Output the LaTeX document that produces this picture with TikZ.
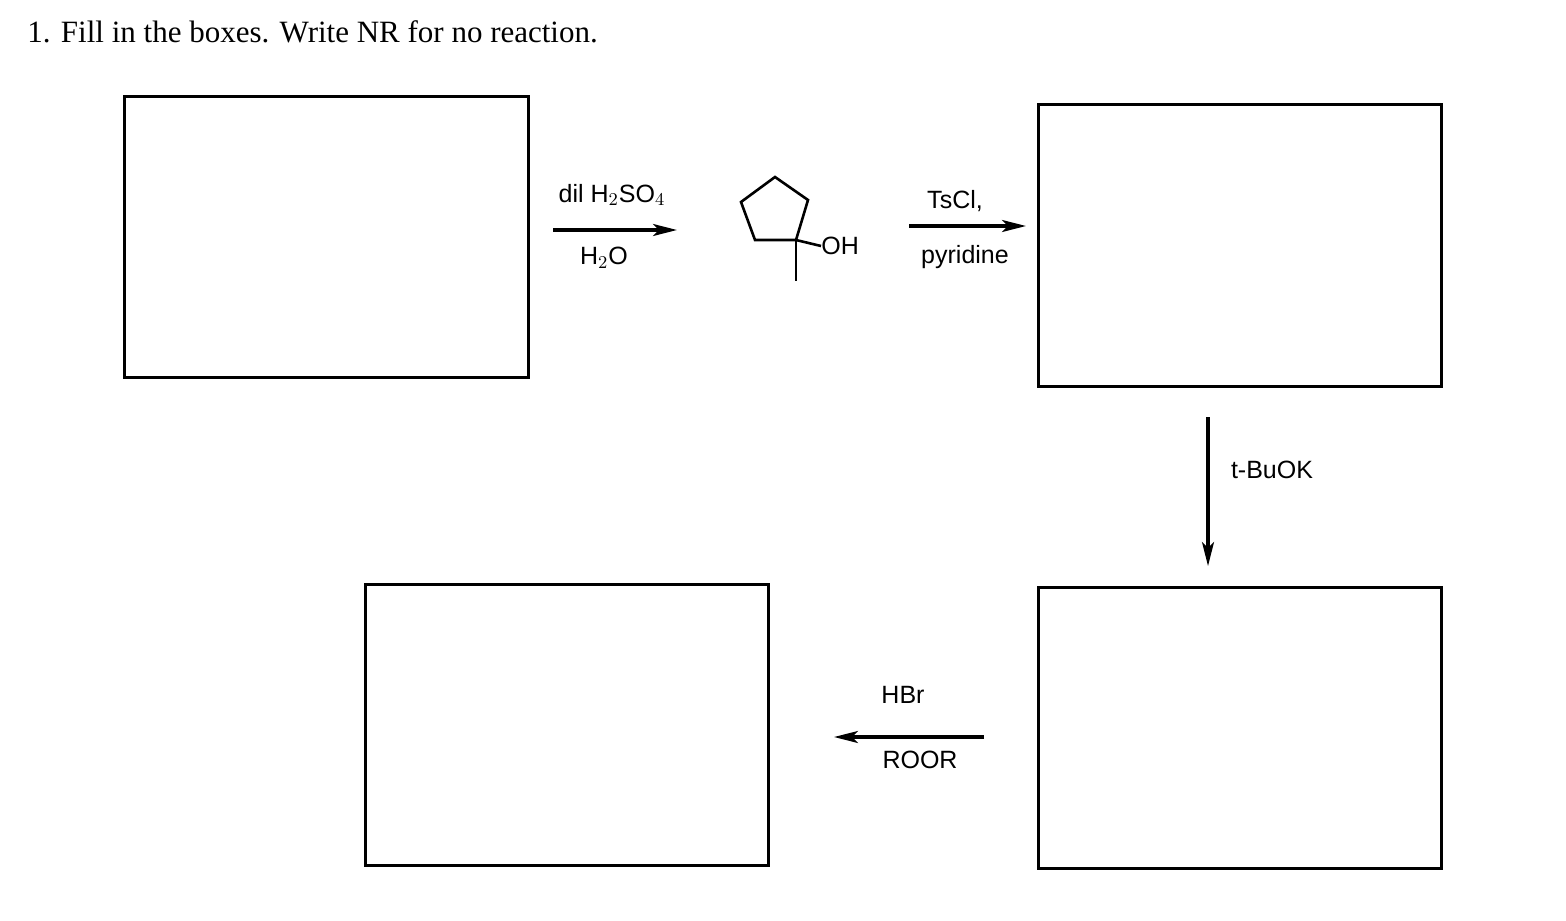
\documentclass[tikz,border=0pt]{standalone}
\usepackage{fontspec}
\setmainfont{Liberation Serif}
\newfontfamily\arialf{Liberation Sans}
\usetikzlibrary{arrows.meta}
\begin{document}
\begin{tikzpicture}[x=0.5pt,y=-0.5pt,
  box/.style={draw,line width=1.3pt},
  rxn/.style={line width=1.6pt,-{Stealth[length=12pt,width=6pt,inset=3pt]}},
  lab/.style={font=\arialf\fontsize{12.5}{14}\selectfont,inner sep=0pt},
  bond/.style={line width=1.3pt}]
\useasboundingbox (0,0) rectangle (1566,920);
\node[anchor=west,font=\fontsize{15.5}{18}\selectfont,inner sep=0pt] (title) at (27,32) {1. Fill in the boxes. Write NR for no reaction.};
\node[box,anchor=north west,minimum width=202pt,minimum height=140.5pt] (b1) at (123,95) {};
\node[box,anchor=north west,minimum width=201.5pt,minimum height=141pt] (b2) at (1037,103) {};
\node[box,anchor=north west,minimum width=201.5pt,minimum height=140.5pt] (b3) at (364,583) {};
\node[box,anchor=north west,minimum width=201.5pt,minimum height=140.5pt] (b4) at (1037,586) {};
% arrows
\coordinate (a1s) at (553,230); \coordinate (a1e) at (677,230);
\draw[rxn] (a1s) -- (a1e);
\node[lab] (l1) at (612,195) {dil H$_2$SO$_4$};
\node[lab] (l2) at (604,258) {H$_2$O};
\coordinate (a2s) at (909,226); \coordinate (a2e) at (1026,226);
\draw[rxn] (a2s) -- (a2e);
\node[lab] (l3) at (955,201) {TsCl,};
\node[lab] (l4) at (965,257) {pyridine};
\coordinate (a3s) at (1208,417); \coordinate (a3e) at (1208,566);
\draw[rxn] (a3s) -- (a3e);
\node[lab] (l5) at (1272,470) {t-BuOK};
\coordinate (a4s) at (984,737); \coordinate (a4e) at (834,737);
\draw[rxn] (a4s) -- (a4e);
\node[lab] (l6) at (903,695) {HBr};
\node[lab] (l7) at (920,760) {ROOR};
% molecule
\coordinate (p1) at (775,177);
\coordinate (p2) at (808,200);
\coordinate (p3) at (796,240);
\coordinate (p4) at (755,240);
\coordinate (p5) at (741,202);
\coordinate (me) at (796,281);
\node[lab,anchor=west] (oh) at (821,246) {OH};
\draw[bond,line join=miter] (p1) -- (p2) -- (p3) -- (p4) -- (p5) -- cycle;
\draw[bond] (p3) -- (me);
\draw[bond] (p3) -- (oh.west);
\end{tikzpicture}
\end{document}
